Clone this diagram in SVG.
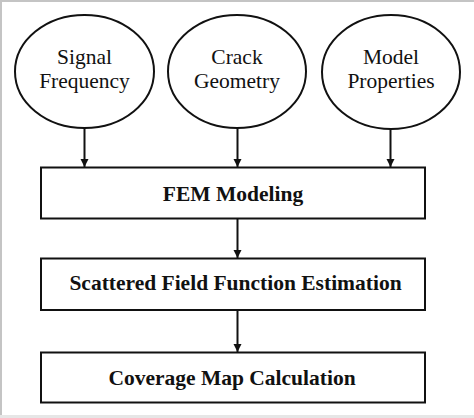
<svg xmlns="http://www.w3.org/2000/svg" width="474" height="418" viewBox="0 0 474 418">
<defs>
<marker id="ah" viewBox="0 0 10 10" refX="10" refY="5" markerWidth="4" markerHeight="4.5" orient="auto" markerUnits="strokeWidth">
<path d="M0,0 L10,5 L0,10 Z" fill="#111"/>
</marker>
<style>
.ell{fill:#fff;stroke:#111;stroke-width:2}
.box{fill:#fff;stroke:#111;stroke-width:2}
.t{font-family:"Liberation Serif","Times New Roman",serif;font-size:21.5px;fill:#111;text-anchor:middle}
.b{font-family:"Liberation Serif","Times New Roman",serif;font-size:21.5px;font-weight:bold;fill:#111;text-anchor:middle}
.c{stroke:#111;stroke-width:2;fill:none;marker-end:url(#ah)}
</style>
</defs>
<rect x="0" y="0" width="474" height="418" fill="#fff"/>
<rect x="0" y="0" width="474" height="2" fill="#c4c4c4"/>
<rect x="0" y="0" width="2" height="418" fill="#c4c4c4"/>
<rect x="0" y="415" width="474" height="3" fill="#e6e6e6"/>
<g id="connectors">
<line class="c" x1="84.5" y1="128" x2="84.5" y2="167"/>
<line class="c" x1="237.5" y1="128" x2="237.5" y2="167"/>
<line class="c" x1="390.5" y1="129" x2="390.5" y2="167"/>
<line class="c" x1="237.5" y1="218" x2="237.5" y2="258"/>
<line class="c" x1="237.5" y1="310" x2="237.5" y2="352"/>
</g>
<g id="signal-frequency">
<ellipse class="ell" cx="84.5" cy="71.5" rx="69.5" ry="56.5"/>
<text class="t" x="84.5" y="64">Signal</text>
<text class="t" x="84.5" y="88">Frequency</text>
</g>
<g id="crack-geometry">
<ellipse class="ell" cx="237" cy="71.5" rx="69" ry="56.5"/>
<text class="t" x="237" y="64">Crack</text>
<text class="t" x="237" y="88">Geometry</text>
</g>
<g id="model-properties">
<ellipse class="ell" cx="391" cy="72" rx="69" ry="57"/>
<text class="t" x="391" y="64">Model</text>
<text class="t" x="391" y="88">Properties</text>
</g>
<g id="fem-modeling">
<rect class="box" x="41" y="167.5" width="384" height="51"/>
<text class="b" x="233" y="201">FEM Modeling</text>
</g>
<g id="scattered-field">
<rect class="box" x="41" y="258.5" width="384" height="51.5"/>
<text class="b" x="235.5" y="290">Scattered Field Function Estimation</text>
</g>
<g id="coverage-map">
<rect class="box" x="41" y="352.5" width="384" height="50"/>
<text class="b" x="232" y="385">Coverage Map Calculation</text>
</g>
</svg>
